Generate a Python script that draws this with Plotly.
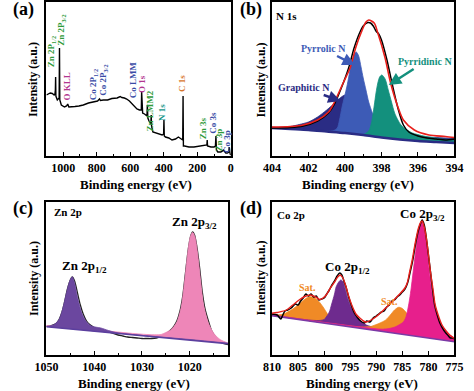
import plotly.graph_objects as go

W, H = 474, 391

# ---------------- (a) XPS survey ----------------
survey_be = [1100, 1090, 1077, 1065, 1054, 1049, 1046.5, 1045, 1043.5, 1035, 1030, 1024, 1022, 1020,
             1011, 992, 980, 973, 966, 954, 930, 906, 880, 849, 820, 795, 783, 778, 760, 735, 710,
             690, 678, 660, 650, 635, 621, 605, 593, 580, 574, 560, 545, 534, 532, 530, 526, 515,
             508, 500, 498, 495, 488, 482, 477, 475, 473, 465, 450, 432, 410, 401, 399, 397, 390,
             370, 351, 330, 313, 300, 290, 287, 285, 283, 276, 250, 220, 185, 160, 143, 141, 139,
             119, 100, 92, 89, 86, 78, 60, 53, 45, 40, 30, 21, 12, 10, 8, 4, 0]
survey_int = [61, 62, 63, 62.5, 61, 62, 66, 79, 60, 56, 57, 58, 108, 56,
              51, 49, 50, 52, 49, 49, 49.5, 50, 51, 53, 54, 55, 57, 55.5, 56, 56, 57.5,
              58, 58, 59.5, 58.5, 58, 57, 55, 53, 50, 49, 47, 46, 46, 64, 44, 43, 42,
              41, 40, 51, 38, 35, 33, 32, 41, 30, 24, 23, 22, 21, 22, 36, 20, 19,
              18, 16, 17, 19, 17, 16, 16, 60, 10, 10, 9, 9, 10, 10, 11, 16, 10,
              9, 9, 10, 20, 6, 4, 4, 4.5, 6, 5, 3, 3, 4, 9, 4, 2, 1]
survey_ticks = [1000, 800, 600, 400, 200, 0]

# ---------------- (b) N 1s ----------------
n_bg_be = [404, 403, 402, 401, 400, 399, 398, 397, 396, 395, 394]
n_bg_int = [28, 27, 26, 24.5, 23, 21, 18.5, 16.5, 15, 14, 13]
n_graph_be = [404, 403, 402.5, 402, 401.5, 401, 400.5, 400.2, 400, 399.7, 399.3, 399, 398.5, 398,
              397.5, 397, 396.5, 396, 395, 394]
n_graph_int = [28.5, 29.5, 31.5, 34, 39, 46, 54, 59, 61, 60, 55, 50, 41, 33, 27, 23, 21, 19.5, 18.5, 17.5]
n_pyrrol_be = [404, 402, 401, 400.6, 400.42, 400.3, 400.16, 399.9, 399.64, 399.5, 399.38, 399.25,
               399.12, 399.0, 398.85, 398.7, 398.5, 398.3, 398.15, 397.8, 397.46, 397, 396, 395, 394]
n_pyrrol_int = [28.2, 26.2, 24.8, 25.5, 28, 36, 49, 69, 93, 101, 104, 100, 89, 78, 66, 54, 43, 34,
                29, 25, 23, 20, 17.5, 15.5, 14.5]
n_pyrid_be = [404, 401, 399.5, 399, 398.7, 398.55, 398.4, 398.3, 398.2, 398.1, 397.98, 397.8, 397.63,
              397.45, 397.28, 397.1, 396.93, 396.6, 396.3, 395.8, 395.4, 394.5, 394]
n_pyrid_int = [28.2, 24.7, 22.2, 21.5, 25, 33, 50, 63, 73, 79, 81, 77, 66, 54, 43, 36, 31, 26, 23,
               20.5, 19, 16.5, 15.5]
n_fit_be = [404, 403, 402.3, 401.5, 400.9, 400.6, 400.1, 399.7, 399.4, 399.1, 398.85, 398.7, 398.4,
            398.2, 397.8, 397.5, 397.1, 396.8, 396.2, 395.4, 394.5, 394]
n_fit_int = [29, 29.5, 31, 36, 44, 53, 73, 89, 109, 124, 134, 136, 133, 123, 98, 73, 49, 36, 26, 21,
             19.5, 18.5]
n_raw_be = [404, 403, 402.3, 401.5, 400.9, 400.6, 400.2, 399.8, 399.5, 399.2, 399.0, 398.75, 398.6,
            398.45, 398.3, 398.15, 398.0, 397.7, 397.4, 397.1, 396.8, 396.5, 396.0, 395.5, 395,
            394.5, 394]
n_raw_int = [28, 28.5, 30, 35, 43, 51, 68, 88, 108, 123, 130, 133.5, 133, 130, 125, 122, 116, 96, 71,
             48, 31, 24, 20, 18, 17, 16, 17]
n_ticks = [404, 402, 400, 398, 396, 394]

# ---------------- (c) Zn 2p ----------------
zn_bg_be = [1050, 1040, 1030, 1020, 1012]
zn_bg_int = [28.3, 23.8, 19.4, 14.9, 11.3]
zn_p12_be = [1050, 1049, 1048.2, 1047.6, 1047.2, 1046.6, 1045.9, 1045.2, 1044.6, 1044.1, 1043.6,
             1043.1, 1042.6, 1042, 1041.3, 1040.6, 1039.6, 1038.6, 1037, 1035.5, 1033, 1028, 1020, 1012]
zn_p12_int = [28.6, 29.3, 31, 34, 37, 46, 60, 73, 78.3, 72, 60, 50, 42, 36, 31.5, 29, 27.8, 27, 24.5,
              22.5, 21, 18.8, 15.5, 11.8]
zn_p32_be = [1050, 1044, 1040, 1036, 1032, 1029, 1027, 1026, 1025, 1024, 1023.3, 1022.7, 1022.2,
             1021.7, 1021.0, 1020.4, 1019.9, 1019.4, 1018.9, 1018.4, 1017.7, 1017.1, 1016.1, 1015.4,
             1014.7, 1013.5, 1012]
zn_p32_int = [29.5, 27, 25.2, 23.4, 21.6, 20.5, 20.2, 20.5, 22.5, 25, 28.5, 33, 40, 50, 77, 103, 118,
              122.7, 118, 103, 73, 50, 32, 25, 20, 15, 12]
zn_raw_be = [1050, 1049, 1048, 1047.4, 1046.8, 1046.2, 1045.6, 1045, 1044.6, 1044.1, 1043.5, 1042.9,
             1042.3, 1041.6, 1040.8, 1040, 1039, 1038, 1037, 1036, 1035, 1034, 1033, 1032, 1031, 1030,
             1029, 1028, 1027, 1026, 1025, 1024, 1023.3, 1022.7, 1022.1, 1021.5, 1020.9, 1020.3,
             1019.8, 1019.4, 1019, 1018.5, 1018, 1017.4, 1016.8, 1016.1, 1015.4, 1014.6, 1013.8,
             1013, 1012]
zn_raw_int = [28.5, 29.5, 31.5, 35, 42, 53, 66, 75, 78, 74, 62, 50, 41, 34, 30, 27.5, 26, 24.5, 23,
              21.5, 20, 19, 18, 17.5, 17, 16.5, 16.5, 16.5, 17, 18.5, 21, 25, 29, 34, 43, 58, 82, 106,
              119, 123, 120, 108, 90, 64, 46, 34, 24, 18, 14, 11.5, 10.5]
zn_ticks = [1050, 1040, 1030, 1020]

# ---------------- (d) Co 2p ----------------
co_bg_be = [810, 800, 790, 780, 775]
co_bg_int = [39.3, 31.9, 24.4, 17.0, 13.3]
co_sat1_be = [810, 808, 807, 806, 805, 804, 803.2, 802.6, 801.8, 801, 800.2, 799.4, 798.6, 797.5,
              796, 793, 788, 783, 778, 775]
co_sat1_int = [40.5, 40.5, 43, 46, 50, 54.5, 57.5, 58.3, 57, 53.5, 48, 41.5, 36, 32, 30, 27.5, 23.8,
               20, 16.5, 14.5]
co_p12_be = [810, 806, 803, 801, 800, 799.6, 799, 798.6, 798, 797.7, 797.2, 796.8, 796.4, 795.9,
             795.5, 795, 794.4, 793.7, 792.5, 791.9, 790, 788.8, 786, 782, 778, 775]
co_p12_int = [39.8, 37, 35, 34.5, 35.5, 38, 43, 50, 61, 68, 73, 75, 73.5, 65, 57, 50, 43, 37, 32, 30,
              27, 26, 23, 19.5, 16.5, 14]
co_sat2_be = [810, 800, 795, 793, 791, 790.6, 789.5, 788.2, 787.3, 786.5, 785.7, 785, 784.2, 783.5,
              782.8, 782, 780, 778, 775]
co_sat2_int = [39.6, 32.3, 29, 28, 28.5, 29.3, 31.5, 35, 40, 45, 47.7, 46.5, 42, 36, 30, 25, 21,
               18.5, 15.5]
co_p32_be = [810, 805, 800, 796, 792, 790, 788.8, 787.5, 786.4, 785.5, 784.8, 784.3, 783.9, 783.6,
             783.3, 783, 782.7, 782.4, 782.1, 781.7, 781.3, 780.9, 780.5, 780.2, 779.9, 779.5, 779,
             778.4, 777.7, 776.8, 775.9, 775]
co_p32_int = [40, 36.3, 32.7, 30, 27.4, 26.2, 25.8, 26.5, 28, 30.5, 33, 38, 47, 56, 67, 80, 93, 105,
              117, 128, 133.3, 128, 117, 103, 87, 70, 53, 41, 33, 25, 20, 17]
co_fit_be = [810, 809, 807.2, 806, 804.8, 803.7, 802.6, 801.6, 800.8, 800.2, 799.6, 798.8, 798,
             797.4, 796.9, 796.4, 795.9, 795.3, 794.7, 793.9, 793.1, 792.3, 791.9, 791, 790.1, 789.2,
             788.2, 787, 785.7, 784.5, 784, 783.6, 783.1, 782.7, 782.3, 781.9, 781.5, 781.2, 780.8,
             780.4, 780, 779.6, 779.1, 778.7, 778, 777.4, 776.6, 775.9, 775]
co_fit_int = [41.7, 42.5, 45, 50, 55, 58.5, 60, 58, 55.5, 57, 60, 67, 73, 78, 80, 77, 70, 59, 50, 41,
              36.7, 33.5, 33, 35, 38, 42, 47, 53, 60, 67, 73, 83, 95, 107, 118, 127, 132.5, 134, 128,
              117, 101, 83, 65, 50, 38, 30, 24, 20, 16.5]
co_raw_be = [810, 809, 808.3, 808, 807.5, 807, 806.3, 805.5, 805, 804.5, 804, 803.5, 803, 802.5,
             802, 801.5, 801, 800.5, 800, 799.5, 799, 798.5, 798, 797.5, 797, 796.6, 796.2, 795.8,
             795.3, 794.8, 794.3, 793.7, 793, 792.3, 791.8, 791.2, 790.6, 790, 789.5, 789, 788.5,
             788, 787.5, 787, 786.5, 786, 785.5, 785, 784.5, 784, 783.5, 783, 782.5, 782, 781.6,
             781.2, 780.8, 780.4, 780, 779.6, 779.2, 778.8, 778.3, 777.8, 777.3, 776.8, 776.3,
             775.8, 775.3, 775]
co_raw_int = [41, 40, 36, 39, 44, 45, 47, 51, 50, 54, 57, 61, 59, 61, 58, 59, 55, 56, 57, 61, 65, 70,
              74, 79, 82, 80, 74, 68, 58, 50, 43, 38, 34, 32, 34, 33, 37, 39, 41, 43, 44, 48, 50, 54,
              55, 58, 60, 63, 66, 72, 83, 95, 110, 123, 130, 135, 130, 117, 100, 83, 65, 50, 40, 32,
              27, 23, 20, 17, 17, 16]
co_ticks = [810, 805, 800, 795, 790, 785, 780, 775]

# ---------------- figure ----------------
SERIF = "Liberation Serif"
fig = go.Figure()


def line(x, y, xa, ya, color, width, shape="spline"):
    fig.add_trace(go.Scatter(x=x, y=y, mode="lines", xaxis=xa, yaxis=ya, showlegend=False,
                             line=dict(color=color, width=width, shape=shape, smoothing=0.8),
                             hoverinfo="skip"))


def band(bx, by, cx, cy, xa, ya, color):
    fig.add_trace(go.Scatter(x=bx, y=by, mode="lines", xaxis=xa, yaxis=ya, showlegend=False,
                             line=dict(width=0, color=color, shape="spline", smoothing=0.8),
                             hoverinfo="skip"))
    fig.add_trace(go.Scatter(x=cx, y=cy, mode="lines", xaxis=xa, yaxis=ya, showlegend=False,
                             fill="tonexty", fillcolor=color,
                             line=dict(width=0.8, color=color, shape="spline", smoothing=0.8),
                             hoverinfo="skip"))


# (a)
line(survey_be, survey_int, "x", "y", "black", 1.4, shape="linear")

# (b)
NAVY, BLUE, TEAL = "#2a2c84", "#3d5bb6", "#13907d"
band(n_bg_be, n_bg_int, n_graph_be, n_graph_int, "x2", "y2", NAVY)
band(n_bg_be, n_bg_int, n_pyrrol_be, n_pyrrol_int, "x2", "y2", BLUE)
band(n_bg_be, n_bg_int, n_pyrid_be, n_pyrid_int, "x2", "y2", TEAL)
line(n_bg_be, n_bg_int, "x2", "y2", NAVY, 2.5)
line(n_raw_be, n_raw_int, "x2", "y2", "black", 1.5)
line(n_fit_be, n_fit_int, "x2", "y2", "#e8201c", 1.6)

# (c)
PURPLE_C, PINK_C = "#6b479f", "#ee86b8"
line(zn_raw_be, zn_raw_int, "x3", "y3", "#222222", 1.3)
band(zn_bg_be, zn_bg_int, zn_p32_be, zn_p32_int, "x3", "y3", PINK_C)
band(zn_bg_be, zn_bg_int, zn_p12_be, zn_p12_int, "x3", "y3", PURPLE_C)
line(zn_bg_be, zn_bg_int, "x3", "y3", "#5b3f9e", 1.5, shape="linear")

# (d)
ORANGE, PURPLE_D, PINK_D = "#f08a26", "#6e2b8e", "#e71f8c"
band(co_bg_be, co_bg_int, co_sat1_be, co_sat1_int, "x4", "y4", ORANGE)
band(co_bg_be, co_bg_int, co_p12_be, co_p12_int, "x4", "y4", PURPLE_D)
band(co_bg_be, co_bg_int, co_sat2_be, co_sat2_int, "x4", "y4", ORANGE)
band(co_bg_be, co_bg_int, co_p32_be, co_p32_int, "x4", "y4", PINK_D)
line(co_bg_be, co_bg_int, "x4", "y4", "#7a3aa6", 1.5, shape="linear")
line(co_raw_be, co_raw_int, "x4", "y4", "black", 1.5)
line(co_fit_be, co_fit_int, "x4", "y4", "#e8201c", 1.4)

TICKFONT = dict(family=SERIF, size=12, color="black", weight="bold")


def xaxis(l, r, rng, tickvals, minor_dtick, anchor):
    d = dict(domain=[l / W, r / W], range=rng, tickvals=tickvals, ticks="inside", ticklen=4,
             tickwidth=1.3, tickcolor="black", showline=True, mirror=True, linecolor="black",
             linewidth=1.5, showgrid=False, zeroline=False, tickfont=TICKFONT, anchor=anchor,
             ticklabelstandoff=0)
    if minor_dtick:
        d["minor"] = dict(ticks="inside", ticklen=2.5, dtick=minor_dtick, tick0=0,
                          tickcolor="black", tickwidth=1, showgrid=False)
    return d


def yaxis(t, b, top, anchor):
    return dict(domain=[1 - b / H, 1 - t / H], range=[0, top], showline=True, mirror=True,
                linecolor="black", linewidth=1.5, ticks="", showticklabels=False,
                showgrid=False, zeroline=False, anchor=anchor)


fig.update_layout(
    width=W, height=H, margin=dict(l=0, r=0, t=0, b=0),
    paper_bgcolor="white", plot_bgcolor="white",
    xaxis=xaxis(36, 229, [1100, 0], survey_ticks, 100, "y"),
    yaxis=yaxis(2, 156, 154, "x"),
    xaxis2=xaxis(272, 463, [404, 394], n_ticks, 1, "y2"),
    yaxis2=yaxis(2, 156, 154, "x2"),
    xaxis3=xaxis(36, 226, [1050, 1012], zn_ticks, 5, "y3"),
    yaxis3=yaxis(202, 355, 153, "x3"),
    xaxis4=xaxis(272, 463, [810, 775], co_ticks, None, "y4"),
    yaxis4=yaxis(202, 355, 153, "x4"),
)

ann = []


def text(s, x, y, size, color="black", angle=0, xanchor="center", yanchor="middle"):
    ann.append(dict(text=s, x=x / W, y=1 - y / H, xref="paper", yref="paper", showarrow=False,
                    textangle=angle, xanchor=xanchor, yanchor=yanchor,
                    font=dict(family=SERIF, size=size, color=color, weight="bold")))


# panel letters
text("(a)", 12, 10, 18)
text("(b)", 250, 10, 18)
text("(c)", 12, 208, 18)
text("(d)", 250, 208, 18)

# axis titles
for cx, cy in [(130, 184), (362, 184), (128, 383), (366, 383)]:
    text("Binding energy (eV)", cx, cy, 13)
for cx, cy in [(22, 80), (261, 80), (23, 278), (261, 278)]:
    text("Intensity (a.u.)", cx, cy, 12, angle=-90)

# survey labels
GREEN, CBLUE, MAG, NTEAL, CORG = "#2f9a3a", "#3a4ca6", "#b2358f", "#17968a", "#d8762c"
survey_labels = [
    ("Zn 2P<sub>1/2</sub>", 41, 52, GREEN), ("Zn 2P<sub>3/2</sub>", 52, 30, GREEN),
    ("O KLL", 58, 86, MAG), ("Co 2P<sub>1/2</sub>", 86, 85, CBLUE),
    ("Co 2P<sub>3/2</sub>", 96, 80, CBLUE), ("Co LMM", 127, 80, CBLUE), ("O 1s", 136, 84, MAG),
    ("Zn LMM2", 144, 111, GREEN), ("N 1s", 157, 113, NTEAL), ("C 1s", 178, 84, CORG),
    ("Zn 3s", 200, 128, GREEN), ("Co 3s", 210, 123, CBLUE), ("Zn 3p", 217, 140, GREEN),
    ("Co 3p", 225, 142, CBLUE),
]
for s, x, y, c in survey_labels:
    text(s, x, y, 9, color=c, angle=-90)

# (b) labels with arrows pointing at the components
for (s, hx, hy, cx, cy, c) in [("Pyrrolic N", 399.45, 91, 327, 49, BLUE),
                               ("Pyrridinic N", 397.6, 71, 430, 62, TEAL),
                               ("Graphitic N", 400.23, 55, 307, 88, NAVY)]:
    tip_x = 272 + (404 - hx) * (463 - 272) / 10.0
    tip_y = 156 - hy
    ann.append(dict(x=hx, y=hy, xref="x2", yref="y2", ax=cx - tip_x, ay=cy - tip_y,
                    axref="pixel", ayref="pixel", text=s, showarrow=True, arrowhead=2,
                    arrowsize=1, arrowwidth=2.5, arrowcolor=c, standoff=0, startstandoff=0,
                    font=dict(family=SERIF, size=10, color=c, weight="bold")))
text("N 1s", 274, 16, 11, xanchor="left")

# (c) labels
text("Zn 2p", 42, 212, 11, xanchor="left")
text("Zn 2p<sub>1/2</sub>", 76, 266, 13)
text("Zn 2p<sub>3/2</sub>", 191, 222, 13)

# (d) labels
text("Co 2p", 275, 215, 11, xanchor="left")
text("Co 2p<sub>1/2</sub>", 351, 267, 13)
text("Co 2p<sub>3/2</sub>", 430, 214, 13)
text("Sat.", 309, 287, 10, color=ORANGE)
text("Sat.", 395, 301, 10, color=ORANGE)

fig.update_layout(annotations=ann)
fig.write_html("out.html", config={"displayModeBar": False},
               post_script="document.body.style.margin='0';document.body.style.padding='0';")
